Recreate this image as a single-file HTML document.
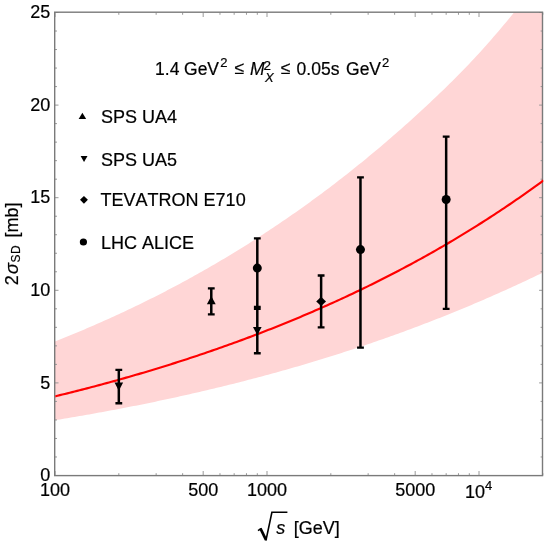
<!DOCTYPE html><html><head><meta charset="utf-8"><style>html,body{margin:0;padding:0;background:#fff}svg{display:block}text{font-family:"Liberation Sans",Arial,sans-serif;fill:#000;stroke:#000;stroke-width:0.2px;font-kerning:none}</style></head><body>
<svg width="550" height="548" viewBox="0 0 550 548">
<defs><clipPath id="pa"><rect x="55.0" y="12.5" width="487.6" height="463.0"/></clipPath><clipPath id="pc"><rect x="55.3" y="12.5" width="488.09999999999997" height="463.0"/></clipPath></defs>
<rect width="550" height="548" fill="#fff"/>
<path d="M55.00,341.42 57.45,340.45 59.90,339.48 62.35,338.50 64.80,337.51 67.25,336.52 69.70,335.52 72.15,334.51 74.60,333.50 77.05,332.49 79.50,331.46 81.95,330.43 84.40,329.39 86.85,328.35 89.30,327.30 91.75,326.25 94.20,325.18 96.65,324.11 99.10,323.04 101.55,321.96 104.01,320.87 106.46,319.77 108.91,318.67 111.36,317.56 113.81,316.44 116.26,315.32 118.71,314.19 121.16,313.05 123.61,311.91 126.06,310.76 128.51,309.60 130.96,308.44 133.41,307.27 135.86,306.09 138.31,304.90 140.76,303.71 143.21,302.51 145.66,301.31 148.11,300.09 150.56,298.87 153.01,297.64 155.46,296.40 157.91,295.16 160.36,293.91 162.81,292.65 165.26,291.39 167.71,290.11 170.16,288.83 172.61,287.54 175.06,286.25 177.51,284.94 179.96,283.63 182.41,282.31 184.86,280.98 187.31,279.65 189.76,278.31 192.21,276.96 194.66,275.60 197.11,274.23 199.56,272.86 202.02,271.47 204.47,270.08 206.92,268.69 209.37,267.28 211.82,265.86 214.27,264.44 216.72,263.01 219.17,261.57 221.62,260.12 224.07,258.67 226.52,257.20 228.97,255.73 231.42,254.25 233.87,252.76 236.32,251.26 238.77,249.75 241.22,248.24 243.67,246.71 246.12,245.18 248.57,243.64 251.02,242.09 253.47,240.53 255.92,238.96 258.37,237.38 260.82,235.80 263.27,234.20 265.72,232.60 268.17,230.99 270.62,229.36 273.07,227.73 275.52,226.09 277.97,224.44 280.42,222.79 282.87,221.12 285.32,219.44 287.77,217.76 290.22,216.06 292.67,214.35 295.12,212.64 297.57,210.92 300.03,209.18 302.48,207.44 304.93,205.69 307.38,203.93 309.83,202.15 312.28,200.37 314.73,198.58 317.18,196.78 319.63,194.97 322.08,193.15 324.53,191.32 326.98,189.48 329.43,187.63 331.88,185.76 334.33,183.89 336.78,182.01 339.23,180.12 341.68,178.22 344.13,176.31 346.58,174.39 349.03,172.46 351.48,170.51 353.93,168.56 356.38,166.60 358.83,164.62 361.28,162.64 363.73,160.64 366.18,158.64 368.63,156.62 371.08,154.60 373.53,152.56 375.98,150.51 378.43,148.45 380.88,146.38 383.33,144.30 385.78,142.21 388.23,140.11 390.68,138.00 393.13,135.87 395.58,133.74 398.04,131.59 400.49,129.43 402.94,127.26 405.39,125.08 407.84,122.89 410.29,120.69 412.74,118.47 415.19,116.25 417.64,114.01 420.09,111.76 422.54,109.50 424.99,107.23 427.44,104.95 429.89,102.65 432.34,100.35 434.79,98.03 437.24,95.70 439.69,93.36 442.14,91.00 444.59,88.64 447.04,86.26 449.49,83.86 451.94,81.45 454.39,79.01 456.84,76.55 459.29,74.07 461.74,71.57 464.19,69.04 466.64,66.49 469.09,63.92 471.54,61.33 473.99,58.71 476.44,56.06 478.89,53.40 481.34,50.70 483.79,47.99 486.24,45.25 488.69,42.48 491.14,39.69 493.59,36.87 496.05,34.03 498.50,31.16 500.95,28.27 503.40,25.34 505.85,22.40 508.30,19.42 510.75,16.42 513.20,13.39 515.65,10.33 518.10,7.24 520.55,4.12 523.00,0.98 525.45,-2.20 527.90,-5.40 530.35,-8.64 532.80,-11.90 535.25,-15.20 537.70,-18.52 540.15,-21.88 542.60,-25.27 L542.60,272.70 540.15,273.88 537.70,275.06 535.25,276.24 532.80,277.41 530.35,278.57 527.90,279.73 525.45,280.88 523.00,282.03 520.55,283.17 518.10,284.31 515.65,285.44 513.20,286.56 510.75,287.68 508.30,288.80 505.85,289.91 503.40,291.01 500.95,292.11 498.50,293.20 496.05,294.29 493.59,295.37 491.14,296.45 488.69,297.52 486.24,298.59 483.79,299.65 481.34,300.71 478.89,301.76 476.44,302.81 473.99,303.85 471.54,304.88 469.09,305.91 466.64,306.94 464.19,307.96 461.74,308.98 459.29,309.99 456.84,310.99 454.39,311.99 451.94,312.99 449.49,313.98 447.04,314.96 444.59,315.94 442.14,316.92 439.69,317.89 437.24,318.86 434.79,319.82 432.34,320.77 429.89,321.73 427.44,322.67 424.99,323.61 422.54,324.55 420.09,325.48 417.64,326.41 415.19,327.33 412.74,328.25 410.29,329.16 407.84,330.07 405.39,330.98 402.94,331.88 400.49,332.77 398.04,333.66 395.58,334.55 393.13,335.43 390.68,336.30 388.23,337.17 385.78,338.04 383.33,338.90 380.88,339.76 378.43,340.62 375.98,341.46 373.53,342.31 371.08,343.15 368.63,343.98 366.18,344.82 363.73,345.64 361.28,346.47 358.83,347.28 356.38,348.10 353.93,348.91 351.48,349.71 349.03,350.51 346.58,351.31 344.13,352.10 341.68,352.89 339.23,353.68 336.78,354.46 334.33,355.23 331.88,356.00 329.43,356.77 326.98,357.53 324.53,358.29 322.08,359.05 319.63,359.80 317.18,360.55 314.73,361.29 312.28,362.03 309.83,362.76 307.38,363.49 304.93,364.22 302.48,364.94 300.03,365.66 297.57,366.38 295.12,367.09 292.67,367.80 290.22,368.50 287.77,369.20 285.32,369.89 282.87,370.58 280.42,371.27 277.97,371.96 275.52,372.64 273.07,373.31 270.62,373.99 268.17,374.65 265.72,375.32 263.27,375.98 260.82,376.64 258.37,377.29 255.92,377.94 253.47,378.59 251.02,379.23 248.57,379.87 246.12,380.51 243.67,381.14 241.22,381.77 238.77,382.39 236.32,383.02 233.87,383.63 231.42,384.25 228.97,384.86 226.52,385.47 224.07,386.07 221.62,386.67 219.17,387.27 216.72,387.86 214.27,388.45 211.82,389.04 209.37,389.62 206.92,390.20 204.47,390.78 202.02,391.35 199.56,391.92 197.11,392.49 194.66,393.05 192.21,393.61 189.76,394.17 187.31,394.72 184.86,395.28 182.41,395.82 179.96,396.37 177.51,396.91 175.06,397.45 172.61,397.98 170.16,398.51 167.71,399.04 165.26,399.57 162.81,400.09 160.36,400.61 157.91,401.12 155.46,401.64 153.01,402.14 150.56,402.65 148.11,403.16 145.66,403.66 143.21,404.15 140.76,404.65 138.31,405.14 135.86,405.63 133.41,406.12 130.96,406.60 128.51,407.08 126.06,407.56 123.61,408.03 121.16,408.50 118.71,408.97 116.26,409.44 113.81,409.90 111.36,410.36 108.91,410.82 106.46,411.27 104.01,411.72 101.55,412.17 99.10,412.62 96.65,413.06 94.20,413.50 91.75,413.94 89.30,414.38 86.85,414.81 84.40,415.24 81.95,415.67 79.50,416.09 77.05,416.52 74.60,416.94 72.15,417.35 69.70,417.77 67.25,418.18 64.80,418.59 62.35,419.00 59.90,419.40 57.45,419.80 55.00,420.20 Z" fill="#ffd6d6" clip-path="url(#pa)"/>
<path d="M55.00,475.5v-4.5M55.00,12.5v4.5M118.82,475.5v-2.3M118.82,12.5v2.3M156.15,475.5v-2.3M156.15,12.5v2.3M182.64,475.5v-2.3M182.64,12.5v2.3M203.18,475.5v-4.5M203.18,12.5v4.5M219.97,475.5v-2.3M219.97,12.5v2.3M234.16,475.5v-2.3M234.16,12.5v2.3M246.46,475.5v-2.3M246.46,12.5v2.3M257.30,475.5v-2.3M257.30,12.5v2.3M267.00,475.5v-4.5M267.00,12.5v4.5M330.82,475.5v-2.3M330.82,12.5v2.3M368.15,475.5v-2.3M368.15,12.5v2.3M394.64,475.5v-2.3M394.64,12.5v2.3M415.18,475.5v-4.5M415.18,12.5v4.5M431.97,475.5v-2.3M431.97,12.5v2.3M446.16,475.5v-2.3M446.16,12.5v2.3M458.46,475.5v-2.3M458.46,12.5v2.3M469.30,475.5v-2.3M469.30,12.5v2.3M479.00,475.5v-4.5M479.00,12.5v4.5M542.82,475.5v-2.3M542.82,12.5v2.3M55.0,475.50h3.5M542.6,475.50h-3.5M55.0,456.98h2M542.6,456.98h-2M55.0,438.46h2M542.6,438.46h-2M55.0,419.94h2M542.6,419.94h-2M55.0,401.42h2M542.6,401.42h-2M55.0,382.90h3.5M542.6,382.90h-3.5M55.0,364.38h2M542.6,364.38h-2M55.0,345.86h2M542.6,345.86h-2M55.0,327.34h2M542.6,327.34h-2M55.0,308.82h2M542.6,308.82h-2M55.0,290.30h3.5M542.6,290.30h-3.5M55.0,271.78h2M542.6,271.78h-2M55.0,253.26h2M542.6,253.26h-2M55.0,234.74h2M542.6,234.74h-2M55.0,216.22h2M542.6,216.22h-2M55.0,197.70h3.5M542.6,197.70h-3.5M55.0,179.18h2M542.6,179.18h-2M55.0,160.66h2M542.6,160.66h-2M55.0,142.14h2M542.6,142.14h-2M55.0,123.62h2M542.6,123.62h-2M55.0,105.10h3.5M542.6,105.10h-3.5M55.0,86.58h2M542.6,86.58h-2M55.0,68.06h2M542.6,68.06h-2M55.0,49.54h2M542.6,49.54h-2M55.0,31.02h2M542.6,31.02h-2M55.0,12.50h3.5M542.6,12.50h-3.5" stroke="#999" stroke-width="1" fill="none"/>
<rect x="54.7" y="12.2" width="487.8" height="463.40000000000003" fill="none" stroke="#7a7a7a" stroke-width="1.4"/>
<path d="M55.00,395.76 57.45,395.16 59.91,394.57 62.36,393.96 64.82,393.36 67.27,392.75 69.73,392.14 72.18,391.52 74.63,390.90 77.09,390.28 79.54,389.65 82.00,389.02 84.45,388.39 86.91,387.75 89.36,387.11 91.81,386.47 94.27,385.82 96.72,385.17 99.18,384.51 101.63,383.85 104.09,383.19 106.54,382.52 108.99,381.85 111.45,381.18 113.90,380.50 116.36,379.82 118.81,379.13 121.27,378.44 123.72,377.75 126.17,377.05 128.63,376.35 131.08,375.64 133.54,374.93 135.99,374.22 138.45,373.50 140.90,372.78 143.35,372.06 145.81,371.33 148.26,370.60 150.72,369.86 153.17,369.12 155.63,368.37 158.08,367.62 160.53,366.87 162.99,366.11 165.44,365.35 167.90,364.58 170.35,363.81 172.81,363.04 175.26,362.26 177.71,361.47 180.17,360.69 182.62,359.89 185.08,359.10 187.53,358.30 189.98,357.49 192.44,356.68 194.89,355.87 197.35,355.05 199.80,354.22 202.26,353.40 204.71,352.56 207.16,351.73 209.62,350.89 212.07,350.04 214.53,349.19 216.98,348.33 219.44,347.47 221.89,346.61 224.34,345.74 226.80,344.87 229.25,343.99 231.71,343.10 234.16,342.21 236.62,341.32 239.07,340.42 241.52,339.52 243.98,338.61 246.43,337.70 248.89,336.78 251.34,335.86 253.80,334.93 256.25,333.99 258.70,333.06 261.16,332.11 263.61,331.16 266.07,330.21 268.52,329.25 270.98,328.29 273.43,327.32 275.88,326.34 278.34,325.36 280.79,324.37 283.25,323.38 285.70,322.39 288.16,321.38 290.61,320.38 293.06,319.36 295.52,318.35 297.97,317.32 300.43,316.29 302.88,315.26 305.34,314.22 307.79,313.17 310.24,312.12 312.70,311.06 315.15,309.99 317.61,308.92 320.06,307.85 322.52,306.77 324.97,305.68 327.42,304.59 329.88,303.49 332.33,302.38 334.79,301.27 337.24,300.15 339.70,299.03 342.15,297.90 344.60,296.76 347.06,295.62 349.51,294.47 351.97,293.31 354.42,292.15 356.88,290.98 359.33,289.81 361.78,288.63 364.24,287.44 366.69,286.25 369.15,285.05 371.60,283.84 374.06,282.62 376.51,281.40 378.96,280.18 381.42,278.94 383.87,277.70 386.33,276.45 388.78,275.20 391.24,273.94 393.69,272.67 396.14,271.39 398.60,270.11 401.05,268.82 403.51,267.52 405.96,266.21 408.42,264.90 410.87,263.58 413.32,262.25 415.78,260.92 418.23,259.58 420.69,258.23 423.14,256.87 425.59,255.50 428.05,254.13 430.50,252.75 432.96,251.36 435.41,249.97 437.87,248.56 440.32,247.15 442.77,245.73 445.23,244.30 447.68,242.87 450.14,241.42 452.59,239.97 455.05,238.51 457.50,237.04 459.95,235.56 462.41,234.08 464.86,232.58 467.32,231.08 469.77,229.57 472.23,228.05 474.68,226.52 477.13,224.98 479.59,223.43 482.04,221.87 484.50,220.31 486.95,218.74 489.41,217.15 491.86,215.56 494.31,213.96 496.77,212.35 499.22,210.73 501.68,209.10 504.13,207.46 506.59,205.81 509.04,204.15 511.49,202.48 513.95,200.80 516.40,199.12 518.86,197.42 521.31,195.71 523.77,193.99 526.22,192.26 528.67,190.52 531.13,188.78 533.58,187.02 536.04,185.25 538.49,183.47 540.95,181.68 543.40,179.87" fill="none" stroke="#f00" stroke-width="2.15" transform="translate(0,0.6)" clip-path="url(#pc)"/>
<path d="M211.28,314.38V288.45" stroke="#000" stroke-width="2.5" fill="none"/><path d="M207.88,314.38h6.8M207.88,288.45h6.8" stroke="#000" stroke-width="2.3" fill="none"/>
<path d="M118.82,403.27V369.94" stroke="#000" stroke-width="2.5" fill="none"/><path d="M115.42,403.27h6.8M115.42,369.94h6.8" stroke="#000" stroke-width="2.3" fill="none"/>
<path d="M257.30,353.27V308.82" stroke="#000" stroke-width="2.5" fill="none"/><path d="M253.90,353.27h6.8M253.90,308.82h6.8" stroke="#000" stroke-width="2.3" fill="none"/>
<path d="M321.12,327.34V275.48" stroke="#000" stroke-width="2.5" fill="none"/><path d="M317.72,327.34h6.8M317.72,275.48h6.8" stroke="#000" stroke-width="2.3" fill="none"/>
<path d="M257.30,306.97V238.44" stroke="#000" stroke-width="2.5" fill="none"/><path d="M253.90,306.97h6.8M253.90,238.44h6.8" stroke="#000" stroke-width="2.3" fill="none"/>
<path d="M360.47,347.71V177.33" stroke="#000" stroke-width="2.5" fill="none"/><path d="M357.07,347.71h6.8M357.07,177.33h6.8" stroke="#000" stroke-width="2.3" fill="none"/>
<path d="M446.16,308.82V136.58" stroke="#000" stroke-width="2.5" fill="none"/><path d="M442.76,308.82h6.8M442.76,136.58h6.8" stroke="#000" stroke-width="2.3" fill="none"/>
<path d="M211.28,295.91L215.68,304.31L206.88,304.31Z" fill="#000"/>
<path d="M118.82,390.75L123.12,382.45L114.52,382.45Z" fill="#000"/>
<path d="M257.30,335.19L261.60,326.89L253.00,326.89Z" fill="#000"/>
<path d="M321.12,296.71L326.02,301.41L321.12,306.11L316.22,301.41Z" fill="#000"/>
<circle cx="257.30" cy="268.08" r="4.5" fill="#000"/>
<circle cx="360.47" cy="249.56" r="4.5" fill="#000"/>
<circle cx="446.16" cy="199.55" r="4.5" fill="#000"/>
<path d="M82.40,112.70L86.15,119.10L78.65,119.10Z" fill="#000"/>
<path d="M84.05,162.10L87.50,156.00L80.60,156.00Z" fill="#000"/>
<path d="M83.95,195.90L87.90,199.85L83.95,203.80L80.00,199.85Z" fill="#000"/>
<circle cx="83.40" cy="242.00" r="3.6" fill="#000"/>
<text x="101.0" y="122.5" font-size="18">SPS UA4</text>
<text x="101.0" y="165.5" font-size="18">SPS UA5</text>
<text x="100.6" y="206.2" font-size="18">TEVATRON E710</text>
<text x="100.9" y="249.1" font-size="18">LHC ALICE</text>
<text x="50.3" y="481.10" font-size="18" text-anchor="end">0</text>
<text x="50.3" y="388.50" font-size="18" text-anchor="end">5</text>
<text x="50.3" y="295.90" font-size="18" text-anchor="end">10</text>
<text x="50.3" y="203.30" font-size="18" text-anchor="end">15</text>
<text x="50.3" y="110.70" font-size="18" text-anchor="end">20</text>
<text x="50.3" y="18.10" font-size="18" text-anchor="end">25</text>
<text x="55.00" y="496" font-size="18" text-anchor="middle">100</text>
<text x="203.18" y="496" font-size="18" text-anchor="middle">500</text>
<text x="267.00" y="496" font-size="18" text-anchor="middle">1000</text>
<text x="415.18" y="496" font-size="18" text-anchor="middle">5000</text>
<text x="465.02" y="498.3" font-size="18">10</text><text x="485.0" y="490.1" font-size="13">4</text>
<text x="155.12" y="74.7" font-size="17.5">1.4</text>
<text x="184.02" y="74.7" font-size="17.5">GeV</text>
<text x="220.30" y="67.3" font-size="13">2</text>
<text x="234.50" y="73.6" font-size="17.5">≤</text>
<text x="250.00" y="74.7" font-size="17.5" font-style="italic">M</text>
<text x="263.60" y="69.7" font-size="13.5">2</text>
<text x="264.90" y="81.6" font-size="13" font-style="italic">X</text>
<text x="280.70" y="73.6" font-size="17.5">≤</text>
<text x="296.58" y="74.7" font-size="17.5">0.05s</text>
<text x="346.02" y="74.7" font-size="17.5">GeV</text>
<text x="382.10" y="67.4" font-size="13">2</text>
<text transform="translate(18.2,285.20) rotate(-90)" font-size="18">2</text>
<text transform="translate(18.2,274.00) rotate(-90)" font-size="18" font-style="italic">σ</text>
<text transform="translate(19.7,262.60) rotate(-90)" font-size="12"><tspan letter-spacing="0.6">SD</tspan></text>
<text transform="translate(18.2,237.40) rotate(-90)" font-size="18">[mb]</text>
<path d="M258.0,530.7L261.0,528.7" fill="none" stroke="#000" stroke-width="1.6"/>
<path d="M260.4,528.4L266.0,539.8" fill="none" stroke="#000" stroke-width="2.7"/>
<path d="M265.9,540.6L271.9,512.3H287.4" fill="none" stroke="#000" stroke-width="1.6" stroke-linejoin="miter"/>
<text x="276.2" y="533.8" font-size="18" font-style="italic">s</text>
<text x="293.75" y="533.8" font-size="18">[GeV]</text>
</svg></body></html>
